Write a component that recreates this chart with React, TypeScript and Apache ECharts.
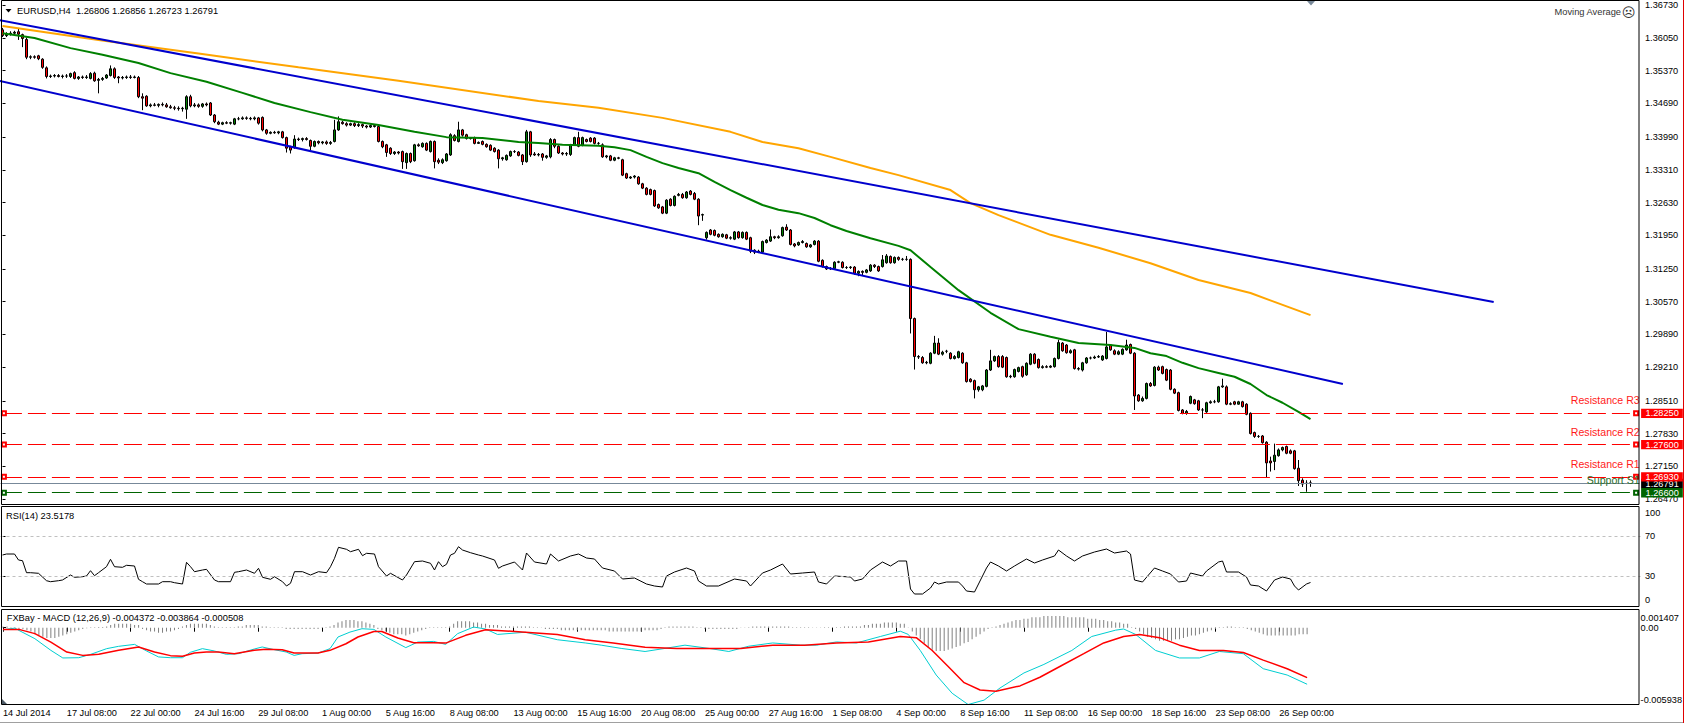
import React, { useEffect, useRef } from "react";
import * as echarts from "echarts";

// ---------- price bars, [open, high, low, close] in 1/10000 units, H4 bars ----------
const wkJul14 = [
  [13622,13626,13607,13610],[13610,13617,13607,13613],
  [13613,13619,13610,13615],[13615,13620,13612,13617],[13618,13625,13601,13613],[13612,13614,13586,13604],[13602,13606,13561,13565],[13565,13569,13561,13566],
  [13566,13569,13562,13565],[13568,13570,13559,13562],[13561,13563,13541,13544],[13543,13546,13521,13525],[13525,13529,13522,13526],[13526,13530,13523,13527],
  [13527,13530,13523,13525],[13525,13529,13521,13526],[13526,13530,13522,13526],[13525,13533,13522,13531],[13533,13536,13519,13521],[13521,13526,13518,13524],
  [13524,13527,13520,13523],[13523,13528,13520,13524],[13521,13534,13519,13531],[13532,13535,13514,13516],[13517,13522,13490,13519],[13519,13524,13516,13521],
];
const wkJul21 = [
  [13522,13530,13520,13528],[13527,13548,13525,13541],[13541,13544,13520,13523],[13524,13526,13511,13522],[13522,13526,13519,13523],[13523,13527,13520,13524],
  [13524,13528,13520,13523],[13523,13527,13521,13524],[13523,13526,13480,13483],[13483,13490,13455,13480],[13484,13486,13462,13464],[13464,13469,13461,13466],
  [13466,13470,13463,13465],[13465,13469,13461,13467],[13467,13471,13463,13466],[13466,13470,13460,13462],[13462,13466,13458,13460],[13460,13464,13455,13459],
  [13459,13463,13454,13458],[13458,13462,13452,13459],[13457,13486,13437,13483],[13483,13487,13461,13464],[13464,13470,13461,13466],[13466,13469,13460,13463],
  [13463,13470,13460,13468],[13468,13471,13463,13466],[13470,13472,13443,13445],[13445,13447,13428,13431],[13430,13433,13424,13426],[13426,13431,13424,13429],
];
const wkJul28 = [
  [13429,13432,13426,13428],[13428,13431,13425,13429],[13426,13439,13424,13437],[13437,13441,13434,13437],[13437,13442,13435,13439],[13439,13442,13435,13438],
  [13438,13441,13434,13437],[13437,13442,13434,13439],[13439,13441,13425,13428],[13440,13442,13411,13414],[13414,13416,13404,13407],[13407,13411,13405,13409],
  [13409,13412,13406,13408],[13408,13412,13405,13410],[13410,13412,13396,13398],[13398,13400,13367,13376],[13379,13381,13365,13372],[13377,13403,13375,13395],
  [13395,13398,13391,13394],[13394,13398,13390,13396],[13396,13399,13392,13394],[13392,13394,13372,13380],[13380,13392,13378,13390],[13390,13392,13384,13387],
  [13387,13391,13384,13389],[13389,13392,13383,13386],[13386,13391,13383,13388],[13390,13435,13388,13414],[13414,13442,13412,13431],[13430,13433,13425,13427],
];
const wkAug04 = [
  [13427,13430,13421,13424],[13424,13429,13422,13427],[13427,13430,13420,13423],[13423,13428,13420,13425],[13425,13427,13418,13422],[13422,13424,13417,13420],
  [13420,13425,13418,13423],[13423,13425,13419,13421],[13421,13423,13388,13390],[13390,13392,13376,13379],[13383,13385,13358,13367],[13376,13378,13362,13365],
  [13365,13370,13362,13368],[13368,13370,13363,13366],[13369,13371,13333,13348],[13346,13367,13333,13365],[13365,13367,13345,13348],[13350,13385,13348,13383],
  [13383,13386,13379,13381],[13379,13388,13377,13386],[13386,13388,13370,13372],[13369,13392,13367,13390],[13390,13392,13334,13348],[13351,13355,13343,13347],
  [13346,13355,13343,13352],[13350,13366,13348,13364],[13362,13407,13360,13404],[13402,13405,13390,13392],[13390,13431,13388,13414],[13414,13416,13400,13403],
];
const wkAug11 = [
  [13404,13406,13394,13396],[13396,13399,13394,13397],[13398,13400,13384,13386],[13386,13390,13385,13388],[13390,13392,13382,13384],[13384,13386,13377,13379],
  [13382,13384,13370,13372],[13376,13378,13367,13369],[13372,13374,13334,13354],[13354,13358,13350,13356],[13352,13363,13350,13361],[13360,13371,13358,13369],
  [13369,13372,13366,13369],[13368,13370,13359,13361],[13362,13364,13341,13348],[13348,13414,13346,13410],[13410,13412,13358,13362],[13364,13368,13360,13362],
  [13362,13366,13359,13363],[13364,13366,13350,13357],[13357,13362,13354,13360],[13358,13397,13355,13394],[13394,13396,13376,13380],[13380,13382,13364,13366],
  [13366,13368,13361,13364],[13364,13368,13360,13365],[13363,13385,13360,13383],[13383,13400,13381,13398],[13398,13410,13378,13380],[13382,13400,13380,13398],
];
const wkAug18 = [
  [13394,13396,13388,13390],[13397,13399,13388,13390],[13397,13399,13384,13386],[13386,13389,13383,13386],[13383,13386,13356,13358],[13358,13362,13355,13360],
  [13360,13362,13349,13351],[13351,13358,13349,13356],[13356,13358,13353,13355],[13352,13354,13318,13320],[13323,13325,13312,13314],[13314,13318,13312,13316],
  [13316,13320,13313,13318],[13316,13318,13300,13302],[13302,13304,13291,13293],[13293,13295,13278,13280],[13290,13292,13278,13280],[13288,13290,13254,13256],
  [13259,13261,13250,13252],[13254,13256,13239,13241],[13241,13270,13239,13268],[13270,13272,13255,13257],[13257,13278,13255,13276],[13278,13283,13276,13280],
  [13280,13283,13271,13273],[13273,13287,13271,13285],[13287,13289,13278,13280],[13282,13285,13268,13270],[13270,13272,13216,13235],[13237,13240,13225,13238],
];
const wkAug25 = [
  [13190,13203,13186,13201],[13206,13208,13195,13197],[13205,13207,13193,13195],[13197,13199,13190,13192],[13192,13199,13190,13197],[13196,13198,13187,13189],
  [13189,13193,13186,13190],[13187,13204,13185,13202],[13202,13204,13188,13190],[13190,13203,13188,13201],[13201,13203,13185,13187],[13190,13192,13158,13162],
  [13164,13166,13156,13160],[13160,13165,13158,13162],[13160,13184,13158,13182],[13180,13187,13178,13185],[13183,13207,13181,13192],[13192,13194,13187,13190],
  [13190,13195,13188,13192],[13194,13213,13192,13211],[13212,13218,13204,13206],[13206,13208,13174,13176],[13177,13179,13170,13173],[13175,13182,13173,13180],
  [13180,13185,13178,13182],[13178,13180,13169,13171],[13171,13177,13169,13175],[13176,13185,13174,13183],[13183,13185,13139,13141],[13143,13145,13128,13130],
];
const wkSep01 = [
  [13130,13132,13123,13125],[13125,13129,13123,13126],[13126,13141,13124,13139],[13139,13142,13137,13140],[13139,13141,13126,13128],[13128,13131,13125,13128],
  [13128,13131,13125,13129],[13129,13131,13113,13116],[13116,13122,13110,13120],[13120,13122,13112,13118],[13118,13125,13116,13123],[13121,13135,13119,13133],
  [13133,13135,13127,13130],[13130,13132,13119,13121],[13130,13154,13128,13144],[13138,13156,13136,13152],[13151,13153,13136,13138],[13138,13151,13136,13149],
  [13149,13151,13142,13145],[13145,13148,13142,13145],[13145,13152,13142,13145],[13145,13147,12991,13022],[13022,13024,12916,12943],[12943,12946,12938,12942],
  [12941,12944,12928,12930],[12930,12934,12927,12931],[12929,12952,12927,12950],[12950,12986,12948,12971],[12971,12981,12946,12948],[12948,12955,12945,12952],
];
const wkSep08 = [
  [12954,12957,12950,12954],[12950,12952,12937,12939],[12939,12946,12937,12943],[12941,12955,12939,12953],[12950,12952,12928,12930],[12930,12932,12889,12891],
  [12896,12898,12889,12891],[12893,12895,12856,12874],[12874,12882,12870,12880],[12874,12884,12871,12882],[12881,12917,12879,12915],[12915,12957,12913,12934],
  [12934,12945,12932,12943],[12943,12946,12920,12922],[12943,12946,12919,12921],[12941,12943,12899,12901],[12901,12905,12898,12902],[12901,12918,12899,12916],
  [12912,12922,12910,12920],[12922,12924,12899,12902],[12905,12931,12903,12929],[12927,12950,12925,12948],[12948,12950,12927,12929],[12937,12939,12918,12920],
  [12920,12925,12918,12922],[12922,12925,12919,12921],[12921,12925,12919,12923],[12922,12941,12920,12939],[12939,12978,12937,12972],[12971,12973,12953,12955],
];
const wkSep15 = [
  [12967,12969,12949,12951],[12951,12958,12949,12955],[12957,12959,12916,12918],[12918,12921,12914,12917],[12915,12932,12912,12930],[12930,12942,12928,12940],
  [12940,12943,12937,12940],[12940,12945,12938,12942],[12942,12946,12940,12943],[12936,12946,12934,12944],[12939,12994,12937,12963],[12967,12969,12955,12957],
  [12955,12958,12946,12948],[12948,12956,12946,12953],[12948,12960,12946,12958],[12957,12978,12955,12967],[12968,12970,12948,12950],[12950,12952,12832,12861],
  [12863,12865,12849,12851],[12851,12860,12849,12856],[12856,12889,12854,12887],[12887,12890,12880,12882],[12883,12923,12881,12921],[12921,12924,12913,12915],
  [12922,12924,12906,12908],[12916,12918,12892,12894],[12915,12917,12873,12875],[12875,12877,12865,12867],[12868,12870,12829,12831],[12832,12834,12823,12825],
];
const wkSep22 = [
  [12825,12832,12822,12829],[12846,12862,12844,12860],[12853,12855,12843,12845],[12851,12853,12830,12832],[12832,12836,12815,12832],[12828,12849,12826,12847],
  [12847,12852,12845,12849],[12849,12853,12846,12849],[12849,12882,12847,12880],[12880,12897,12878,12882],[12880,12883,12842,12844],[12844,12848,12842,12845],
  [12849,12851,12842,12844],[12844,12851,12843,12849],[12849,12851,12837,12839],[12844,12846,12821,12823],[12825,12827,12781,12783],[12785,12787,12774,12777],
  [12777,12780,12774,12777],[12778,12780,12762,12764],[12765,12767,12692,12722],[12726,12735,12704,12722],[12725,12762,12707,12738],[12737,12752,12735,12749],
  [12749,12756,12746,12754],[12756,12758,12740,12742],[12747,12750,12740,12742],[12747,12749,12708,12710],[12711,12728,12674,12685],[12686,12690,12672,12678],
];
const wkSep29 = [
  [12680,12686,12662,12679],[12680.6,12685.6,12672.3,12679.1],
];

// ---------- indicator lines, [bar index, value] ----------
const ma50Green = [
  [0,1.3615],[8,1.3605],[17,1.3584],[25,1.357],[34,1.3553],[42,1.3532],[51,1.3514],[60,1.3491],[68,1.347],[77,1.3451],[85,1.3435],[94,1.3424],
  [103,1.341],[111,1.3399],[120,1.3397],[129,1.3389],[134,1.3387],[140,1.3383],[149,1.3381],[153,1.3378],[157,1.3372],[161,1.3358],[165,1.3345],
  [169,1.3335],[174,1.3324],[178,1.3306],[182,1.3289],[186,1.3273],[190,1.3258],[194,1.3248],[199,1.3241],[203,1.3231],[207,1.3216],[211,1.3204],
  [217,1.3189],[224,1.3173],[227,1.3164],[232,1.3129],[239,1.3081],[247,1.3034],[254,1.3],[262,1.2984],[269,1.2971],[277,1.2967],[283,1.2961],
  [287,1.295],[291,1.2944],[295,1.293],[299,1.2919],[304,1.2909],[308,1.2901],[312,1.2886],[316,1.2863],[320,1.2847],[324,1.2828],[327,1.2813],
];
const ma200Orange = [
  [0,1.363],[24,1.3601],[49,1.3573],[74,1.3544],[99,1.3516],[134,1.3474],[149,1.346],[165,1.3439],[182,1.341],[190,1.3389],[199,1.3376],
  [207,1.3358],[217,1.3335],[224,1.332],[237,1.3289],[242,1.3262],[249,1.3237],[262,1.3196],[274,1.3169],[287,1.3137],[299,1.3102],[312,1.3075],[327,1.3029],
];
const trendUpper = [[-0.7,1.36418],[372.8,1.30564]];
const trendLower = [[-0.7,1.35156],[335.1,1.2886]];

const rsiLine = [
  [0,51],[1,52],[3,52],[4,46],[5,45.3],[6,33.3],[7,33.3],[9,32.7],[11,25.3],[12,24.3],[14,25.3],[15,26],[17,31],[18,28.7],[20,29.3],[21,30],
  [22,35.3],[23,30.3],[24,33.3],[26,39.3],[27,46.7],[28,39.3],[30,38.7],[31,40.7],[33,40],[34,26.7],[35,24.3],[36,22],[39,22],[40,24.3],[42,24.3],
  [43,23.3],[45,22],[46,43.7],[47,39.3],[48,34.3],[50,36],[51,36.7],[53,26],[54,24.3],[57,24.3],[58,33.7],[59,34.3],[61,36],[63,32.7],[64,37.7],
  [65,28.7],[67,26.7],[68,29.3],[70,24.3],[71,20],[72,22.7],[73,34.3],[75,34.3],[77,31],[79,34.3],[81,33.3],[82,39.3],[83,47.7],[84,58.7],[86,56.7],
  [87,54.3],[89,56.7],[90,50.3],[91,52.7],[93,52],[94,39.3],[96,30],[97,32.7],[100,26],[101,31],[103,44.3],[105,45],[107,42.7],[108,36],[109,44.3],
  [110,39.3],[111,41.7],[112,51],[113,52.7],[114,59.3],[115,56],[117,53.3],[119,51],[120,50],[123,46],[124,37.7],
  [125,40],[128,44],[130,36],[131,53],[133,44],[136,42],[137,52],[139,45],[142,50],[144,52],[146,48],[148,47],[150,38],[153,35],[155,27],[158,28],
  [161,22],[163,20],[165,19],[166,30],[168,34],[171,38],[173,35],[174,25],[176,20],[179,20],[183,27],[186,25],[187,20],[190,33],[192,36],[195,42],
  [197,32],[200,33],[203,34],[204,24],[206,22],[208,30],[212,29],[213,25],[215,27],[217,36],[220,44],[222,40],[224,45],[226,45],[227,17],[228,12],
  [230,12],[232,18],[233,24],[234,22],[236,24],[239,24],[240,20],[241,15],[243,14],[244,22],[246,38],[247,44],[249,40],[251,35],[253,40],[256,47],
  [258,43],[260,46],[263,50],[264,56],[266,50],[268,45],[270,50],[273,54],[276,57],[278,53],[281,55],[282,52],[283,26],[285,24],[288,38],[290,35],
  [292,32],[294,24],[296,25],[297,33],[300,30],[301,35],[304,44],[305,45],[306,34],[309,34],[311,29],[312,21],[314,20],[316,15],[318,26],[320,29],
  [322,27],[323,20],[324,16],[326,22],[327,23.5178],
];

const macdMain = [
  [0,-0.00016],[3,-0.00003],[4,-0.00021],[8,-0.00085],[12,-0.00175],[15,-0.00234],[19,-0.00232],[22,-0.00206],[26,-0.00162],[29,-0.00144],
  [33,-0.00129],[36,-0.0018],[39,-0.00226],[42,-0.00232],[45,-0.00232],[47,-0.0019],[50,-0.00162],[53,-0.0018],[56,-0.00206],[59,-0.00201],
  [63,-0.00165],[65,-0.00149],[68,-0.0017],[71,-0.00188],[73,-0.00214],[75,-0.00201],[79,-0.00196],[82,-0.00162],[84,-0.00072],[87,-0.00034],
  [90,-0.00008],[93,-0.00013],[96,-0.00072],[101,-0.00154],[104,-0.00111],[108,-0.00106],[111,-0.00129],[114,-0.00046],[118,0.00005],[121,-0.0001],
  [124,-0.00052],[131,-0.00035],[139,-0.00093],[146,-0.00118],[150,-0.00135],[155,-0.0016],[161,-0.00184],[166,-0.0016],[171,-0.00135],[177,-0.0016],
  [182,-0.00184],[187,-0.00143],[193,-0.00118],[200,-0.00135],[204,-0.00135],[209,-0.0011],[214,-0.00118],[220,-0.00068],[225,-0.00027],[227,-0.00052],
  [230,-0.00176],[234,-0.00366],[238,-0.00507],[242,-0.005938],[246,-0.0056],[250,-0.00466],[256,-0.0035],[261,-0.00284],[268,-0.00176],[273,-0.00068],
  [279,-0.00019],[281,-0.0001],[284,-0.00052],[289,-0.00176],[295,-0.00234],[300,-0.00234],[305,-0.00184],[311,-0.00201],[316,-0.00317],[322,-0.00366],
  [327,-0.004372],
];
const macdSignal = [
  [0,-0.00013],[4,-0.00013],[8,-0.00046],[12,-0.00111],[16,-0.00188],[20,-0.00214],[24,-0.00206],[29,-0.00175],[34,-0.00149],[38,-0.00188],
  [42,-0.00216],[45,-0.00221],[48,-0.00196],[51,-0.00188],[54,-0.00188],[58,-0.00201],[63,-0.00175],[66,-0.00167],[70,-0.0017],[73,-0.00196],
  [79,-0.00196],[82,-0.00175],[86,-0.00124],[89,-0.00072],[93,-0.00029],[95,-0.00029],[99,-0.0008],[103,-0.00116],[108,-0.00116],[111,-0.00119],
  [116,-0.00059],[121,-0.00016],[124,-0.00021],[131,-0.00035],[139,-0.00052],[146,-0.00093],[153,-0.00118],[161,-0.00151],[169,-0.0016],[177,-0.0016],
  [185,-0.0016],[193,-0.00135],[201,-0.00135],[209,-0.00118],[217,-0.0011],[225,-0.00068],[229,-0.00077],[233,-0.00176],[237,-0.003],[241,-0.00425],
  [245,-0.00482],[249,-0.00491],[255,-0.0045],[260,-0.00383],[265,-0.003],[271,-0.00201],[276,-0.00118],[281,-0.00068],[285,-0.00052],[290,-0.00077],
  [295,-0.00135],[300,-0.00176],[306,-0.00176],[311,-0.00192],[316,-0.00251],[322,-0.00317],[327,-0.003864],
];
// histogram per bar, in 1/10000 units
const histJulAug = [
  1,1,0.3,0.3,-1,-1, -2,-3,-5,-6,-7,-8,-8,-8,-7,-6,-5,-4,-3,-2, -1,-0.5,0.3,0.3,0.5,0.5,1, 2,3,3,3,3,3,2,2,
  -1,-2,-3,-3,-4,-4,-3,-3,-2,-1, 1,2,3,3,3,3,3,2,1, 0.3,0.3,0.3,0.3,0.3, 1,1,2,2,2,2,1,1, 0.3,0.3,0.3,
  0.3,-1,-1,-1,-1,-1,-1,-1,-1,-1,-0.3,0.3, 1,2,4,5,6,6,6,5,5,4,3,2, -1,-2,-3,-4,-5,-5,-5,-6,-5,-4,-3,-2,-1,
  0.3,0.3,0.3,0.3,0.3, 1,3,5,5,5,5,4,4,3,3,2,2,2,
];
const histAugSep = [
  1,1,1,1,1,1, 1,1,0.3,0.3,-0.3, -1,-1,-1,-1,-2,-2,-2,-2,-2,-2,-2,-2,-2,-2,-2, -2,-3,-3,-3,-3,-3,-3,-3,-3,-3,-2,-2,-2,-2,-1,
  0.3,1,1,1,1,1,1,1,0.3,0.3, -1,-1,-1,-1,-1,-1,-1,-1,-1,-0.3,-0.3, 0.3,1,1,1,1,1,1,1,1,1,1,0.3,0.3,0.3,
  0.3,0.3,-0.3,-0.3,-0.3,0.3,0.3,0.3,0.3,0.3,1,1,1,1,1, 2,2,3,3,3,4,4,4,4,3,3, -0.3, -3,-6,-9,-12,-15,
  -17,-18,-18,-18,-17,-16,-15,-14, -12,-11,-9,-7,-5,-3, -1,0.3,1,2, 3,4,5,6,6,7,7,8,8,8,9,9,9,9,9,9,8,8,8,8,
  8,7,7,7,6,6,5,5,4,4,3,3, 0.3,-1,-3,-5,-7,-8,-9,-10, -10,-10,-10,-9,-9,-8,-7,-6,-6,-5, -4,-3,-2,-1,0.3,0.3,1,1,0.3,0.3,
  0.3,-1,-2,-3,-4,-5,-6,-6,-6,-6,-6,-6,-6,-6,-5,-5,-5.08,
];

// ---------- axes / labels ----------
const xTickLabels = [
  "14 Jul 2014","17 Jul 08:00","22 Jul 00:00","24 Jul 16:00","29 Jul 08:00","1 Aug 00:00","5 Aug 16:00","8 Aug 08:00",
  "13 Aug 00:00","15 Aug 16:00","20 Aug 08:00","25 Aug 00:00","27 Aug 16:00","1 Sep 08:00","4 Sep 00:00","8 Sep 16:00",
  "11 Sep 08:00","16 Sep 00:00","18 Sep 16:00","23 Sep 08:00","26 Sep 00:00",
];
const xTickEvery = 16;
const priceTicks = [1.3673,1.3605,1.3537,1.3469,1.3399,1.3331,1.3263,1.3195,1.3125,1.3057,1.2989,1.2921,1.2851,1.2783,1.2715,1.2647];
const priceMin = 1.263659;
const priceMax = 1.368397;
const rsiTicks = [100, 70, 30, 0];
const rsiLevels = [70, 30];
const macdTicks = [0.001407, 0, -0.005938];
const macdMin = -0.005938;
const macdMax = 0.001407;
const rsiLast = "23.5178";
const macdLastTexts = ["-0.004372", "-0.003864", "-0.000508"];

const levels = [
  { name: "Resistance R3", price: 1.2825, color: "#ff0000", text: "#ff1a1a" },
  { name: "Resistance R2", price: 1.276, color: "#ff0000", text: "#ff1a1a" },
  { name: "Resistance R1", price: 1.2693, color: "#ff0000", text: "#ff1a1a" },
  { name: "Support S1", price: 1.266, color: "#006400", text: "#2c6e2c" },
];
const bidPrice = 1.26791;

const SLOTS = 410;
const FONT = "'Liberation Sans', Arial, Helvetica, sans-serif";
const FS = 9.2;
const CLEAR = "rgba(0,0,0,0)";

function buildOption() {
  const candles = [
    ...wkJul14, ...wkJul21, ...wkJul28, ...wkAug04, ...wkAug11, ...wkAug18,
    ...wkAug25, ...wkSep01, ...wkSep08, ...wkSep15, ...wkSep22, ...wkSep29,
  ];
  const k = (v: number) => v / 10000;
  const candleData = candles.map(([o, h, l, c]) => [k(o), k(c), k(l), k(h)]);
  const histData = [...histJulAug, ...histAugSep].map((v) => v / 10000);
  const cats = Array.from({ length: SLOTS }, (_, i) => String(i));
  const last = candles[candles.length - 1];
  const headerText = "EURUSD,H4  " + last.map((v) => k(v).toFixed(5)).join(" ");

  const tickFn = (idx: number) => idx % xTickEvery === 0 && idx / xTickEvery < xTickLabels.length;

  const xL = 0.35; // left end of level lines (bar units)
  const xR = 408.4; // right end of level lines (bar units)
  const levelItems: any[] = [];
  levelItems.push([
    { coord: [-0.5, bidPrice], symbol: "none", lineStyle: { color: "#778899", width: 1, type: "solid" }, label: { show: false } },
    { coord: [409.2, bidPrice], symbol: "none" },
  ]);
  levels.forEach((L) => {
    levelItems.push([
      { coord: [xL, L.price], symbol: "emptyRect", symbolSize: 4, lineStyle: { color: L.color, width: 1, type: [18, 6] }, label: { show: false } },
      { coord: [xR, L.price], symbol: "emptyRect", symbolSize: 4 },
    ]);
  });
  levels.forEach((L) => {
    levelItems.push([
      {
        coord: [xL, L.price], symbol: "none", lineStyle: { color: CLEAR, width: 1, opacity: 1 },
        label: { show: true, position: "insideEndTop", distance: [0, 7.5], formatter: L.name, color: L.text, fontSize: 10.6, fontFamily: FONT },
      },
      { coord: [409.3, L.price], symbol: "none" },
    ]);
  });
  const tag = (price: number, bg: string) => [
    {
      coord: [xL, price], symbol: "none", lineStyle: { color: CLEAR, width: 1, opacity: 1 },
      label: {
        show: true, position: "end", distance: 5, formatter: price.toFixed(5), color: "#ffffff",
        backgroundColor: bg, padding: [0, 4, 0, 4.5], lineHeight: 9.4, fontSize: FS, fontFamily: FONT,
      },
    },
    { coord: [xR, price], symbol: "none" },
  ];
  levelItems.push(tag(bidPrice, "#000000"));
  levelItems.push(tag(levels[0].price, levels[0].color));
  levelItems.push(tag(levels[1].price, levels[1].color));
  levelItems.push(tag(levels[2].price, levels[2].color));
  levelItems.push(tag(levels[3].price, levels[3].color));

  const txt = (x: number, y: number, text: string, size: number, fill = "#000", align = "left", family = FONT) => ({
    type: "text", x, y, silent: true,
    style: { text, fill, font: `${size}px ${family}`, align, verticalAlign: "middle" },
  });
  const rect = (x: number, y: number, w: number, h: number) => ({
    type: "rect", silent: true, shape: { x, y, width: w, height: h },
    style: { fill: "none", stroke: "#000", lineWidth: 1 }, z: 10,
  });

  const hiddenValX = (gridIndex: number) => ({ type: "value", gridIndex, min: -0.5, max: SLOTS - 0.5, show: false });

  return {
    animation: false,
    backgroundColor: "#ffffff",
    grid: [
      { left: 0.5, top: 0, width: 1640, height: 504 },
      { left: 0.5, top: 506, width: 1640, height: 100 },
      { left: 0.5, top: 609.5, width: 1640, height: 95 },
    ],
    xAxis: [
      { type: "category", gridIndex: 0, data: cats, show: false },
      hiddenValX(0),
      hiddenValX(1),
      {
        type: "category", gridIndex: 2, data: cats,
        axisLine: { show: false },
        axisTick: { show: true, interval: tickFn, alignWithLabel: true, length: 4, lineStyle: { color: "#000" } },
        axisLabel: {
          interval: tickFn, align: "left", margin: 4, fontSize: FS, fontFamily: FONT, color: "#000",
          formatter: (_v: string, idx: number) => xTickLabels[Math.round(idx / xTickEvery)] || "",
        },
        splitLine: { show: false },
      },
      hiddenValX(2),
    ],
    yAxis: [
      {
        type: "value", gridIndex: 0, position: "right", offset: -1.5, min: priceMin, max: priceMax,
        axisLine: { show: false }, splitLine: { show: false },
        axisTick: { show: true, customValues: priceTicks, length: 3, lineStyle: { color: "#000" } },
        axisLabel: { customValues: priceTicks, formatter: (v: number) => v.toFixed(5), margin: 6, fontSize: FS, fontFamily: FONT, color: "#000" },
      },
      {
        type: "value", gridIndex: 1, position: "right", offset: -1.5, min: 0, max: 100,
        axisLine: { show: false }, splitLine: { show: false },
        axisTick: { show: true, customValues: rsiTicks, length: 3, lineStyle: { color: "#000" } },
        axisLabel: {
          customValues: rsiTicks, margin: 6, fontSize: FS, fontFamily: FONT, color: "#000",
          formatter: (v: number) => (v === 100 ? "{t|100}" : v === 0 ? "{b|0}" : String(v)),
          rich: {
            t: { padding: [14, 0, 0, 0], fontSize: FS, fontFamily: FONT, color: "#000" },
            b: { padding: [0, 0, 12, 0], fontSize: FS, fontFamily: FONT, color: "#000" },
          },
        },
      },
      {
        type: "value", gridIndex: 2, position: "right", offset: -1.5, min: macdMin, max: macdMax,
        axisLine: { show: false }, splitLine: { show: false },
        axisTick: { show: true, customValues: macdTicks, length: 3, lineStyle: { color: "#000" } },
        axisLabel: {
          customValues: macdTicks, margin: 6, fontSize: FS, fontFamily: FONT, color: "#000",
          formatter: (v: number) => (v > 0.001 ? "{t|" + v.toFixed(6) + "}" : v < -0.005 ? "{b|" + v.toFixed(6) + "}" : "0.00"),
          rich: {
            t: { padding: [16, 0, 0, 0], fontSize: FS, fontFamily: FONT, color: "#000" },
            b: { padding: [0, 0, 10, 0], fontSize: FS, fontFamily: FONT, color: "#000" },
          },
        },
      },
    ],
    series: [
      {
        type: "candlestick", xAxisIndex: 0, yAxisIndex: 0, data: candleData, barWidth: 2,
        itemStyle: { color: "#008000", color0: "#ff0000", borderColor: "#000", borderColor0: "#000", borderWidth: 1 },
        z: 2,
      },
      {
        type: "line", xAxisIndex: 1, yAxisIndex: 0, data: ma200Orange, symbol: "none",
        lineStyle: { color: "#ffa500", width: 2 }, z: 3,
      },
      {
        type: "line", xAxisIndex: 1, yAxisIndex: 0, data: ma50Green, symbol: "none",
        lineStyle: { color: "#008000", width: 2 }, z: 3,
      },
      {
        type: "line", xAxisIndex: 1, yAxisIndex: 0, data: trendUpper, symbol: "none",
        lineStyle: { color: "#0000cd", width: 2 }, z: 3,
      },
      {
        type: "line", xAxisIndex: 1, yAxisIndex: 0, data: trendLower, symbol: "none",
        lineStyle: { color: "#0000cd", width: 2 }, z: 3,
        markLine: { silent: true, symbol: ["none", "none"], animation: false, label: { show: false }, data: levelItems },
      },
      {
        type: "line", xAxisIndex: 2, yAxisIndex: 1, data: rsiLine, symbol: "none",
        lineStyle: { color: "#000", width: 1 },
        markLine: {
          silent: true, symbol: ["none", "none"], animation: false, label: { show: false },
          lineStyle: { color: "#c0c0c0", width: 1, type: [3, 3] },
          data: rsiLevels.map((v) => ({ yAxis: v })),
        },
      },
      {
        type: "bar", xAxisIndex: 3, yAxisIndex: 2, data: histData, barWidth: 1,
        itemStyle: { color: "#808080" },
      },
      {
        type: "line", xAxisIndex: 4, yAxisIndex: 2, data: macdMain, symbol: "none",
        lineStyle: { color: "#00ced1", width: 1 }, z: 3,
      },
      {
        type: "line", xAxisIndex: 4, yAxisIndex: 2, data: macdSignal, symbol: "none",
        lineStyle: { color: "#ff0000", width: 1.5 }, z: 3,
      },
    ],
    graphic: [
      rect(1.5, 0.5, 1637.5, 504),
      rect(1.5, 506.5, 1637.5, 100),
      rect(1.5, 609.5, 1637.5, 95),
      { type: "polygon", silent: true, shape: { points: [[5.5, 9], [11.5, 9], [8.5, 12.5]] }, style: { fill: "#000" } },
      txt(17, 11, headerText, 9.3),
      txt(1621, 12, "Moving Average", 9.3, "#333", "right"),
      txt(1628.5, 12.5, "\u2639", 13, "#333", "center", "'DejaVu Sans', sans-serif"),
      txt(6, 516, "RSI(14) " + rsiLast, 9.3),
      txt(6.7, 618, "FXBay - MACD (12,26,9) " + macdLastTexts.join(" "), 9.3),
      { type: "polygon", silent: true, shape: { points: [[1307, 1], [1315, 1], [1311, 5.5]] }, style: { fill: "#778899" } },
      { type: "polygon", silent: true, shape: { points: [[2, 699], [2, 704.5], [7.5, 704.5]] }, style: { fill: "#4d5a66" } },
      { type: "line", silent: true, shape: { x1: 1683.5, y1: 0, x2: 1683.5, y2: 723 }, style: { stroke: "#e00000", lineWidth: 1 } },
      { type: "line", silent: true, shape: { x1: 0, y1: 722.5, x2: 1683, y2: 722.5 }, style: { stroke: "#a0a0a0", lineWidth: 1 } },
    ],
  };
}

export default function App() {
  const ref = useRef<HTMLDivElement>(null);
  useEffect(() => {
    document.body.style.margin = "0";
    const chart = echarts.init(ref.current as HTMLDivElement, null, { renderer: "svg" });
    chart.setOption(buildOption() as any);
    return () => chart.dispose();
  }, []);
  return <div ref={ref} style={{ width: 1685, height: 725, background: "#fff" }} />;
}
